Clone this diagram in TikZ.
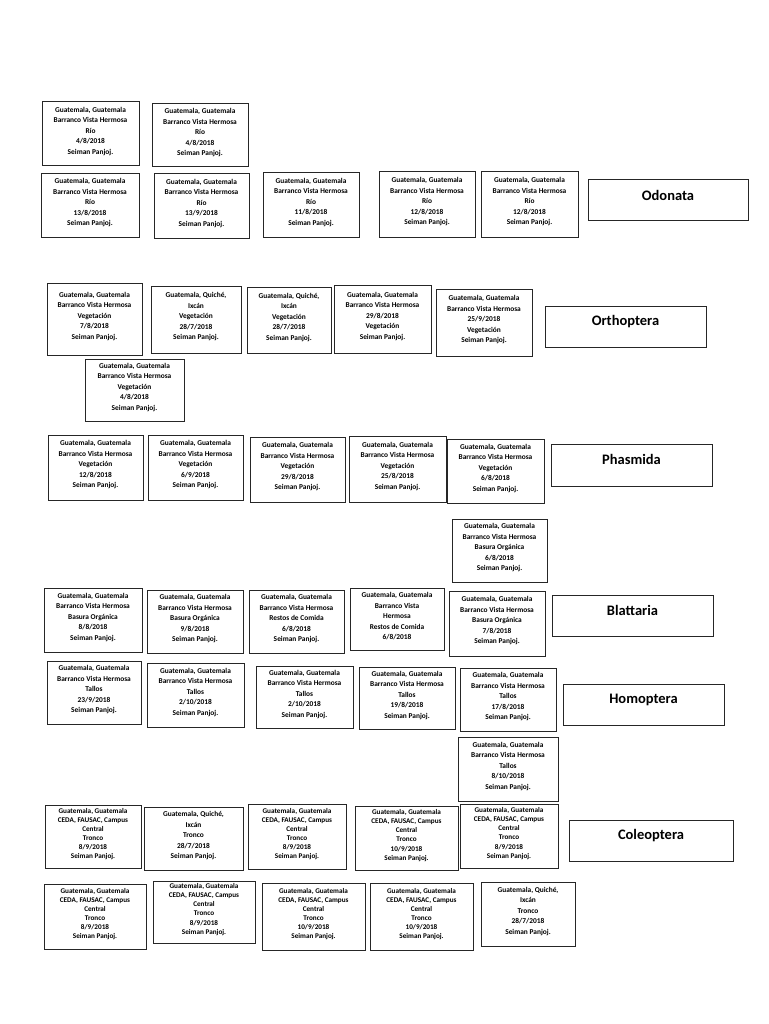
\documentclass[tikz,border=0pt]{standalone}
\usepackage{fontspec}
\setmainfont{Carlito}
\usetikzlibrary{fit}
\newcommand\bx[6][]{\node[cell,#1,fit={(#2,#3) (#4,#5)}] (#1n#2) {#6};}
\newcommand\GG{Guatemala, Guatemala\\Barranco Vista Hermosa}
\newcommand\GQ{Guatemala, Quiché,\\Ixcán}
\newcommand\GC{Guatemala, Guatemala\\CEDA, FAUSAC, Campus\\Central}
\newcommand\SP{Seiman Panjoj.}
\begin{document}
\begin{tikzpicture}[x=1pt,y=-1pt,
  cell/.style={draw=black!85, line width=1pt, inner sep=0pt, align=center,
    font=\fontsize{7.4}{10.5}\selectfont\bfseries},
  six/.style={font=\fontsize{7.2}{9.1}\selectfont\bfseries},
  tag/.style={draw=black!85, line width=1pt, inner sep=0pt,
    font=\fontsize{14.5}{16}\selectfont\bfseries, text height=10pt, text depth=10pt}]
\useasboundingbox[fill=white] (0,0) rectangle (768,1024);
% Odonata
\bx{42}{102}{139}{166}{\GG\\Río\\4/8/2018\\\SP}
\bx{152}{104}{248}{167}{\GG\\Río\\4/8/2018\\\SP}
\bx{41}{174}{139}{237}{\GG\\Río\\13/8/2018\\\SP}
\bx{154}{174}{249}{238}{\GG\\Río\\13/9/2018\\\SP}
\bx{263}{173}{359}{237}{\GG\\Río\\11/8/2018\\\SP}
\bx{379}{172}{475}{237}{\GG\\Río\\12/8/2018\\\SP}
\bx{481}{172}{578}{237}{\GG\\Río\\12/8/2018\\\SP}
\node[tag, fit={(588,180) (748,221)}] (odonata) {Odonata};
% Orthoptera
\bx{47}{283}{142}{355}{\GG\\Vegetación\\7/8/2018\\\SP}
\bx{151}{286}{241}{353}{\GQ\\Vegetación\\28/7/2018\\\SP}
\bx{247}{287}{331}{353}{\GQ\\Vegetación\\28/7/2018\\\SP}
\bx{334}{285}{431}{353}{\GG\\29/8/2018\\Vegetación\\\SP}
\bx{436}{289}{532}{356}{\GG\\25/9/2018\\Vegetación\\\SP}
\bx{85}{359}{184}{421}{\GG\\Vegetación\\4/8/2018\\\SP}
\node[tag, fit={(545,306) (706,347)}] (orthoptera) {Orthoptera};
% Phasmida
\bx{48}{435}{143}{500}{\GG\\Vegetación\\12/8/2018\\\SP}
\bx{148}{435}{243}{500}{\GG\\Vegetación\\6/9/2018\\\SP}
\bx{250}{437}{345}{502}{\GG\\Vegetación\\29/8/2018\\\SP}
\bx{349}{436}{446}{502}{\GG\\Vegetación\\25/8/2018\\\SP}
\bx{447}{439}{544}{503}{\GG\\Vegetación\\6/8/2018\\\SP}
\node[tag, fit={(551,444) (712,486)}] (phasmida) {Phasmida};
\bx{452}{519}{547}{582}{\GG\\Basura Orgánica\\6/8/2018\\\SP}
% Blattaria
\bx{44}{588}{142}{652}{\GG\\Basura Orgánica\\8/8/2018\\\SP}
\bx{147}{590}{243}{653}{\GG\\Basura Orgánica\\9/8/2018\\\SP}
\bx{249}{590}{344}{653}{\GG\\Restos de Comida\\6/8/2018\\\SP}
\bx{350}{588}{444}{650}{Guatemala, Guatemala\\Barranco Vista\\Hermosa\\Restos de Comida\\6/8/2018}
\bx{449}{591}{545}{656}{\GG\\Basura Orgánica\\7/8/2018\\\SP}
\node[tag, fit={(552,595) (713,636)}] (blattaria) {Blattaria};
% Homoptera
\bx{47}{661}{141}{724}{\GG\\Tallos\\23/9/2018\\\SP}
\bx{147}{663}{244}{727}{\GG\\Tallos\\2/10/2018\\\SP}
\bx{256}{666}{353}{728}{\GG\\Tallos\\2/10/2018\\\SP}
\bx{359}{667}{455}{729}{\GG\\Tallos\\19/8/2018\\\SP}
\bx{460}{668}{556}{731}{\GG\\Tallos\\17/8/2018\\\SP}
\node[tag, fit={(563,684) (724,725)}] (homoptera) {Homoptera};
\bx{458}{737}{558}{801}{\GG\\Tallos\\8/10/2018\\\SP}
% Coleoptera
\bx[six]{45}{805}{141}{868}{\GC\\Tronco\\8/9/2018\\\SP}
\bx{144}{807}{243}{870}{\GQ\\Tronco\\28/7/2018\\\SP}
\bx[six]{248}{804}{346}{869}{\GC\\Tronco\\8/9/2018\\\SP}
\bx[six]{355}{806}{458}{870}{\GC\\Tronco\\10/9/2018\\\SP}
\bx[six]{460}{804}{558}{868}{\GC\\Tronco\\8/9/2018\\\SP}
\node[tag, fit={(569,820) (733,861)}] (coleoptera) {Coleoptera};
\bx[six]{44}{884}{146}{949}{\GC\\Tronco\\8/9/2018\\\SP}
\bx[six]{153}{881}{255}{943}{\GC\\Tronco\\8/9/2018\\\SP}
\bx[six]{262}{883}{365}{950}{\GC\\Tronco\\10/9/2018\\\SP}
\bx[six]{370}{883}{473}{950}{\GC\\Tronco\\10/9/2018\\\SP}
\bx{481}{882}{575}{946}{\GQ\\Tronco\\28/7/2018\\\SP}
\end{tikzpicture}
\end{document}
